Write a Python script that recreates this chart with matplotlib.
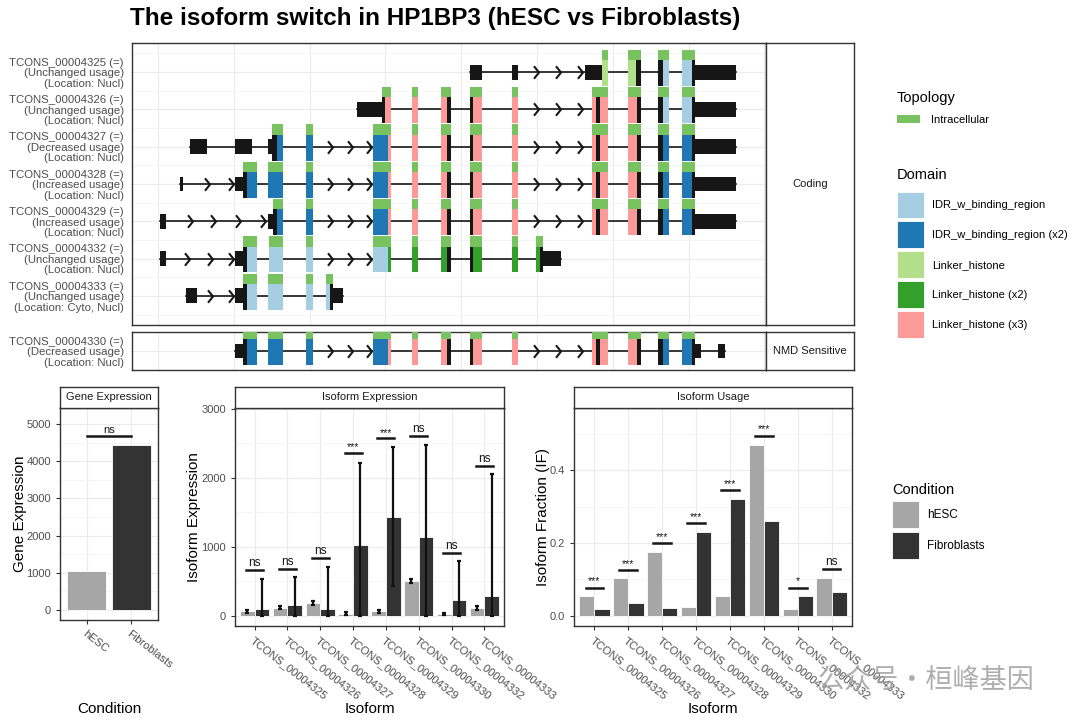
import numpy as np
import matplotlib.pyplot as plt
from matplotlib.patches import Rectangle, Patch
from matplotlib.path import Path

plt.rcParams['font.family'] = ['Liberation Sans', 'DejaVu Sans']

W, H = 1080, 723

# ---------------- transcript structures (relative position on the gene) ----------------
tx_names = ['TCONS_00004325', 'TCONS_00004326', 'TCONS_00004327', 'TCONS_00004328',
            'TCONS_00004329', 'TCONS_00004332', 'TCONS_00004333']
tx_usage = ['Unchanged usage', 'Unchanged usage', 'Decreased usage', 'Increased usage',
            'Increased usage', 'Unchanged usage', 'Unchanged usage']
tx_location = ['Nucl', 'Nucl', 'Nucl', 'Nucl', 'Nucl', 'Nucl', 'Cyto, Nucl']
nmd_name, nmd_usage, nmd_location = 'TCONS_00004330', 'Decreased usage', 'Nucl'

# shared exon blocks: (start, end, feature)
mid_lh3 = [(412, 418, 'LH3'), (441, 447, 'LH3'), (447, 451, 'cds'), (470, 473, 'cds'),
           (473, 482, 'LH3'), (512, 518, 'LH3'), (592, 596, 'LH3'), (596, 600, 'cds'),
           (600, 608, 'LH3'), (628, 637, 'LH3'), (637, 641, 'cds')]
end_idr = [(658, 663, 'cds'), (663, 669, 'IDR'), (682, 692, 'IDR'), (692, 695, 'cds'), (695, 736, 'utr')]
end_idr2 = [(658, 663, 'cds'), (663, 669, 'IDR2'), (682, 692, 'IDR2'), (692, 695, 'cds'), (695, 736, 'utr')]

tx_4325 = [(470, 482, 'utr'), (512, 518, 'utr'), (585, 602, 'utr'), (602, 608, 'LH'),
           (628, 636, 'LH'), (636, 641, 'cds')] + end_idr
tx_4326 = [(357, 382, 'utr'), (382, 385, 'cds'), (385, 391, 'LH3')] + mid_lh3 + end_idr
tx_4327 = [(190, 207, 'utr'), (235, 252, 'utr'), (268, 272, 'utr'), (272, 277, 'cds'),
           (277, 283, 'IDR2'), (306, 313, 'IDR2'), (373, 388, 'IDR2'), (388, 391, 'LH3')] + mid_lh3 + end_idr2
tx_4328 = [(180, 183, 'utr'), (235, 243, 'utr'), (243, 247, 'cds'), (247, 257, 'IDR2'),
           (268, 283, 'IDR2'), (306, 313, 'IDR2'), (373, 388, 'IDR2'), (388, 391, 'LH3')] + mid_lh3 + end_idr2
tx_4329 = [(160, 166, 'utr'), (268, 273, 'utr'), (273, 277, 'cds'), (277, 283, 'IDR2'),
           (306, 313, 'IDR2'), (373, 388, 'IDR2'), (388, 391, 'LH3')] + mid_lh3 + end_idr2
tx_4332 = [(160, 166, 'utr'), (235, 243, 'utr'), (243, 247, 'cds'), (247, 257, 'IDR'),
           (269, 283, 'IDR'), (306, 313, 'IDR'), (373, 388, 'IDR'), (388, 391, 'LH2'),
           (412, 418, 'LH2'), (441, 447, 'LH2'), (447, 451, 'cds'), (470, 473, 'cds'),
           (473, 482, 'LH2'), (512, 518, 'LH2'), (536, 540, 'LH2'), (540, 543, 'cds'), (543, 561, 'utr')]
tx_4333 = [(186, 197, 'utr'), (235, 243, 'utr'), (243, 247, 'cds'), (247, 257, 'IDR'),
           (268, 283, 'IDR'), (306, 313, 'IDR'), (326, 330, 'IDR'), (330, 333, 'cds'), (333, 343, 'utr')]
tx_4330 = [(235, 243, 'utr'), (243, 247, 'cds'), (247, 257, 'IDR2'), (268, 283, 'IDR2'),
           (306, 313, 'IDR2'), (373, 388, 'IDR2'), (388, 391, 'LH3')] + mid_lh3 + \
          [(658, 663, 'cds'), (663, 669, 'IDR2'), (682, 692, 'IDR2'), (692, 695, 'cds'),
           (695, 701, 'utr'), (718, 725, 'utr')]

# direction arrows in introns
arr_4325 = [536, 558, 580]
arr_4326 = [536, 558, 580]
arr_4327 = [330, 350, 369, 536, 558, 580]
arr_4328 = [207, 231, 330, 350, 369, 536, 558, 580]
arr_4329 = [190, 213, 238, 263, 330, 350, 369, 536, 558, 580]
arr_4332 = [187, 210, 231, 330, 350, 369]
arr_4333 = [210, 231]
arr_4330 = [330, 350, 369, 536, 558, 580]

coding_tx = [tx_4325, tx_4326, tx_4327, tx_4328, tx_4329, tx_4332, tx_4333]
coding_arr = [arr_4325, arr_4326, arr_4327, arr_4328, arr_4329, arr_4332, arr_4333]

feature_colors = {'cds': '#161616', 'utr': '#161616', 'IDR': '#A6CEE3', 'IDR2': '#1F78B4',
                  'LH': '#B2DF8A', 'LH2': '#33A02C', 'LH3': '#FB9A99'}
topo_color = '#78C25F'
domain_labels = ['IDR_w_binding_region', 'IDR_w_binding_region (x2)', 'Linker_histone',
                 'Linker_histone (x2)', 'Linker_histone (x3)']
domain_keys = ['IDR', 'IDR2', 'LH', 'LH2', 'LH3']

# ---------------- expression data ----------------
conditions = ['hESC', 'Fibroblasts']
cond_colors = ['#A6A6A6', '#333333']
gene_exp = [1050, 4440]
gene_sig, gene_sig_y = 'ns', 4690

isoforms = ['TCONS_00004325', 'TCONS_00004326', 'TCONS_00004327', 'TCONS_00004328',
            'TCONS_00004329', 'TCONS_00004330', 'TCONS_00004332', 'TCONS_00004333']
iso_exp_hesc = [65, 120, 190, 30, 65, 500, 25, 115]
iso_exp_hesc_lo = [45, 100, 165, 10, 45, 470, 10, 85]
iso_exp_hesc_hi = [85, 140, 215, 50, 85, 530, 40, 145]
iso_exp_fib = [95, 160, 105, 1023, 1430, 1140, 235, 290]
iso_exp_fib_lo = [0, 0, 0, 0, 435, 0, 0, 0]
iso_exp_fib_hi = [540, 570, 710, 2220, 2440, 2480, 800, 2050]
iso_exp_sig = ['ns', 'ns', 'ns', '***', '***', 'ns', 'ns', 'ns']
iso_exp_sig_y = [670, 685, 845, 2360, 2570, 2610, 910, 2170]

iso_if_hesc = [0.054, 0.103, 0.174, 0.025, 0.054, 0.469, 0.019, 0.103]
iso_if_fib = [0.019, 0.034, 0.022, 0.231, 0.322, 0.259, 0.054, 0.065]
iso_if_sig = ['***', '***', '***', '***', '***', '***', '*', 'ns']
iso_if_sig_y = [0.077, 0.126, 0.200, 0.254, 0.345, 0.495, 0.077, 0.128]


def px_rect(x0, y0, x1, y1):
    return [x0 / W, 1 - y1 / H, (x1 - x0) / W, (y1 - y0) / H]


fig = plt.figure(figsize=(10.8, 7.23), dpi=100)
fig.text(435 / W, 1 - 18 / H, 'The isoform switch in HP1BP3 (hESC vs Fibroblasts)',
         ha='center', va='center', fontsize=17.5, fontweight='bold')

chevron = Path([(-0.4, 1), (0.4, 0), (-0.4, -1)], [Path.MOVETO, Path.LINETO, Path.LINETO])
grid_x = np.arange(158, 766, 75.8)


def add_strip(rect, label):
    s = fig.add_axes(rect)
    s.set_xticks([])
    s.set_yticks([])
    for sp in s.spines.values():
        sp.set_color('#333333')
        sp.set_linewidth(1.0)
    s.text(0.5, 0.5, label, ha='center', va='center', fontsize=8, color='#1A1A1A',
           transform=s.transAxes)
    return s


def draw_transcript(ax, row, segments, arrows):
    x_start = min(s[0] for s in segments)
    x_end = max(s[1] for s in segments)
    ax.plot([x_start, x_end], [row, row], color='#161616', lw=1.2, zorder=2)
    ax.plot(arrows, [row] * len(arrows), ls='none', marker=chevron, ms=9,
            mfc='none', mec='#161616', mew=1.5, zorder=2)
    for x0, x1, kind in segments:
        if kind == 'utr':
            ax.add_patch(Rectangle((x0, row - 0.2), x1 - x0, 0.4, fc=feature_colors[kind], ec='none', zorder=3))
        else:
            ax.add_patch(Rectangle((x0, row - 0.32), x1 - x0, 0.69, fc=feature_colors[kind], ec='none', zorder=3))
            # topology: whole ORF is intracellular
            ax.add_patch(Rectangle((x0, row - 0.6), x1 - x0, 0.28, fc=topo_color, ec='none', zorder=3))


def tx_label(name, usage, loc):
    return '%s (=)\n(%s)\n(Location: %s)' % (name, usage, loc)


def style_struct_ax(ax):
    ax.set_xlim(132, 766)
    ax.set_xticks(grid_x)
    ax.tick_params(axis='x', length=0, labelbottom=False)
    ax.tick_params(axis='y', length=0, labelsize=8.2, labelcolor='#4D4D4D', pad=6)
    ax.grid(True, which='major', color='#EBEBEB', lw=0.8)
    ax.grid(True, which='minor', axis='y', color='#F2F2F2', lw=0.6)
    ax.set_axisbelow(True)
    for sp in ax.spines.values():
        sp.set_color('#333333')
        sp.set_linewidth(1.0)


# ---------------- coding panel ----------------
ax_tx = fig.add_axes(px_rect(132, 43, 766, 325))
rows = np.arange(1, len(tx_names) + 1)
for r, segs, arr in zip(rows, coding_tx, coding_arr):
    draw_transcript(ax_tx, r, segs, arr)
ax_tx.set_ylim(7.78, 0.22)
ax_tx.set_yticks(rows)
ax_tx.set_yticks(np.arange(0.5, 8, 1), minor=True)
ax_tx.tick_params(axis='y', which='minor', length=0)
ax_tx.set_yticklabels([tx_label(n, u, l) for n, u, l in zip(tx_names, tx_usage, tx_location)],
                      linespacing=1.05)
style_struct_ax(ax_tx)
add_strip(px_rect(766, 43, 854, 325), 'Coding')

# ---------------- NMD panel ----------------
ax_nmd = fig.add_axes(px_rect(132, 332, 766, 370))
draw_transcript(ax_nmd, 1, tx_4330, arr_4330)
ax_nmd.set_ylim(1.51, 0.49)
ax_nmd.set_yticks([1])
ax_nmd.set_yticklabels([tx_label(nmd_name, nmd_usage, nmd_location)], linespacing=1.05)
style_struct_ax(ax_nmd)
add_strip(px_rect(766, 332, 854, 370), 'NMD Sensitive')

# ---------------- legends for structure ----------------
topo_handles = [Patch(fc=topo_color, ec='none', label='Intracellular')]
fig.legend(handles=topo_handles, title='Topology', loc='upper left',
           bbox_to_anchor=(891 / W, 1 - 85 / H), frameon=False, fontsize=8,
           title_fontsize=10.5, handlelength=2.1, handleheight=0.73,
           handletextpad=1.0, borderpad=0, labelspacing=0.9, alignment='left')
fig.text(897 / W, 1 - 175 / H, 'Domain', ha='left', va='center', fontsize=10.5)
dom_handles = [Patch(fc=feature_colors[k], ec='white', lw=0.6, label=l)
               for k, l in zip(domain_keys, domain_labels)]
fig.legend(handles=dom_handles, loc='upper left',
           bbox_to_anchor=(891 / W, 1 - 186 / H), frameon=False, fontsize=8,
           handlelength=2.43, handleheight=3.35,
           handletextpad=0.8, borderpad=0, labelspacing=0.27)


# ---------------- bottom panels ----------------
def style_panel(ax):
    for sp in ax.spines.values():
        sp.set_color('#333333')
        sp.set_linewidth(1.0)
    ax.grid(True, which='major', color='#EBEBEB', lw=0.8)
    ax.grid(True, which='minor', axis='y', color='#F2F2F2', lw=0.5)
    ax.set_axisbelow(True)
    ax.tick_params(colors='#333333', labelcolor='#4D4D4D', labelsize=8, length=3, width=0.8)
    ax.tick_params(which='minor', length=0)


def rotate_xlabels(ax, labels):
    ax.set_xticklabels(labels, rotation=-38, ha='left', va='top', rotation_mode='anchor')


# Gene expression
ax_g = fig.add_axes(px_rect(60, 408, 158, 620))
xg = np.arange(len(conditions))
ax_g.bar(xg, gene_exp, width=0.88, color=cond_colors, edgecolor='white', linewidth=0.6)
ax_g.plot([0, 1], [gene_sig_y, gene_sig_y], color='#161616', lw=1.8)
ax_g.text(0.5, gene_sig_y + 10, gene_sig, ha='center', va='bottom', fontsize=8, color='#161616')
ax_g.set_xlim(-0.6, 1.6)
ax_g.set_ylim(-270, 5430)
ax_g.set_yticks(np.arange(0, 5001, 1000))
ax_g.set_yticks(np.arange(500, 5500, 1000), minor=True)
ax_g.set_xticks(xg)
rotate_xlabels(ax_g, conditions)
style_panel(ax_g)
ax_g.set_ylabel('Gene Expression', fontsize=11)
ax_g.yaxis.set_label_coords(-0.34, 0.5)
ax_g.set_xlabel('Condition', fontsize=11)
ax_g.xaxis.set_label_coords(0.5, -0.385)
add_strip(px_rect(60, 387, 158, 408), 'Gene Expression')

xi = np.arange(len(isoforms))
bw = 0.45

# Isoform expression
ax_e = fig.add_axes(px_rect(235, 408, 504, 626))
ax_e.bar(xi - bw / 2, iso_exp_hesc, width=bw, color=cond_colors[0], edgecolor='white', linewidth=0.6)
ax_e.bar(xi + bw / 2, iso_exp_fib, width=bw, color=cond_colors[1], edgecolor='white', linewidth=0.6)
h_err = [np.array(iso_exp_hesc) - np.array(iso_exp_hesc_lo), np.array(iso_exp_hesc_hi) - np.array(iso_exp_hesc)]
f_err = [np.array(iso_exp_fib) - np.array(iso_exp_fib_lo), np.array(iso_exp_fib_hi) - np.array(iso_exp_fib)]
ax_e.errorbar(xi - bw / 2, iso_exp_hesc, yerr=h_err, fmt='none', ecolor='#111111', elinewidth=1.6, capsize=1.5, capthick=1.6)
ax_e.errorbar(xi + bw / 2, iso_exp_fib, yerr=f_err, fmt='none', ecolor='#111111', elinewidth=1.6, capsize=1.5, capthick=1.6)
for x, s, y in zip(xi, iso_exp_sig, iso_exp_sig_y):
    ax_e.plot([x - 0.26, x + 0.26], [y, y], color='#161616', lw=1.8)
    ax_e.text(x, y + 10, s, ha='center', va='bottom', fontsize=8.5 if s == 'ns' else 7.5, color='#161616')
ax_e.set_xlim(-0.6, len(isoforms) - 0.4)
ax_e.set_ylim(-146, 3010)
ax_e.set_yticks([0, 1000, 2000, 3000])
ax_e.set_yticks([500, 1500, 2500], minor=True)
ax_e.set_xticks(xi)
rotate_xlabels(ax_e, isoforms)
style_panel(ax_e)
ax_e.set_ylabel('Isoform Expression', fontsize=11)
ax_e.yaxis.set_label_coords(-0.125, 0.5)
ax_e.set_xlabel('Isoform', fontsize=11)
ax_e.xaxis.set_label_coords(0.5, -0.35)
add_strip(px_rect(235, 387, 504, 408), 'Isoform Expression')

# Isoform usage
ax_u = fig.add_axes(px_rect(574, 408, 852, 626))
ax_u.bar(xi - bw / 2, iso_if_hesc, width=bw, color=cond_colors[0], edgecolor='white', linewidth=0.6)
ax_u.bar(xi + bw / 2, iso_if_fib, width=bw, color=cond_colors[1], edgecolor='white', linewidth=0.6)
for x, s, y in zip(xi, iso_if_sig, iso_if_sig_y):
    ax_u.plot([x - 0.26, x + 0.26], [y, y], color='#161616', lw=1.8)
    ax_u.text(x, y + 0.003, s, ha='center', va='bottom', fontsize=8.5 if s == 'ns' else 7.5, color='#161616')
ax_u.set_xlim(-0.6, len(isoforms) - 0.4)
ax_u.set_ylim(-0.0285, 0.571)
ax_u.set_yticks([0.0, 0.2, 0.4])
ax_u.set_yticklabels(['0.0', '0.2', '0.4'])
ax_u.set_yticks([0.1, 0.3, 0.5], minor=True)
ax_u.set_xticks(xi)
rotate_xlabels(ax_u, isoforms)
style_panel(ax_u)
ax_u.set_ylabel('Isoform Fraction (IF)', fontsize=11)
ax_u.yaxis.set_label_coords(-0.088, 0.5)
ax_u.set_xlabel('Isoform', fontsize=11)
ax_u.xaxis.set_label_coords(0.5, -0.35)
add_strip(px_rect(574, 387, 852, 408), 'Isoform Usage')

cond_handles = [Patch(fc=c, ec='white', lw=0.6, label=l) for c, l in zip(cond_colors, conditions)]
fig.legend(handles=cond_handles, title='Condition', loc='upper left',
           bbox_to_anchor=(886 / W, 1 - 477 / H), frameon=False, fontsize=8.5,
           title_fontsize=10.5, handlelength=2.28, handleheight=3.13,
           handletextpad=0.7, borderpad=0, labelspacing=0.34, alignment='left')

# watermark
fig.text(818 / W, 1 - 681 / H, '公众号·桓峰基因', ha='left', va='center', fontsize=19.5,
         color='#9A9A9A', alpha=0.8, family=['Noto Sans CJK SC', 'DejaVu Sans'])

fig.savefig('out.png', dpi=100)
